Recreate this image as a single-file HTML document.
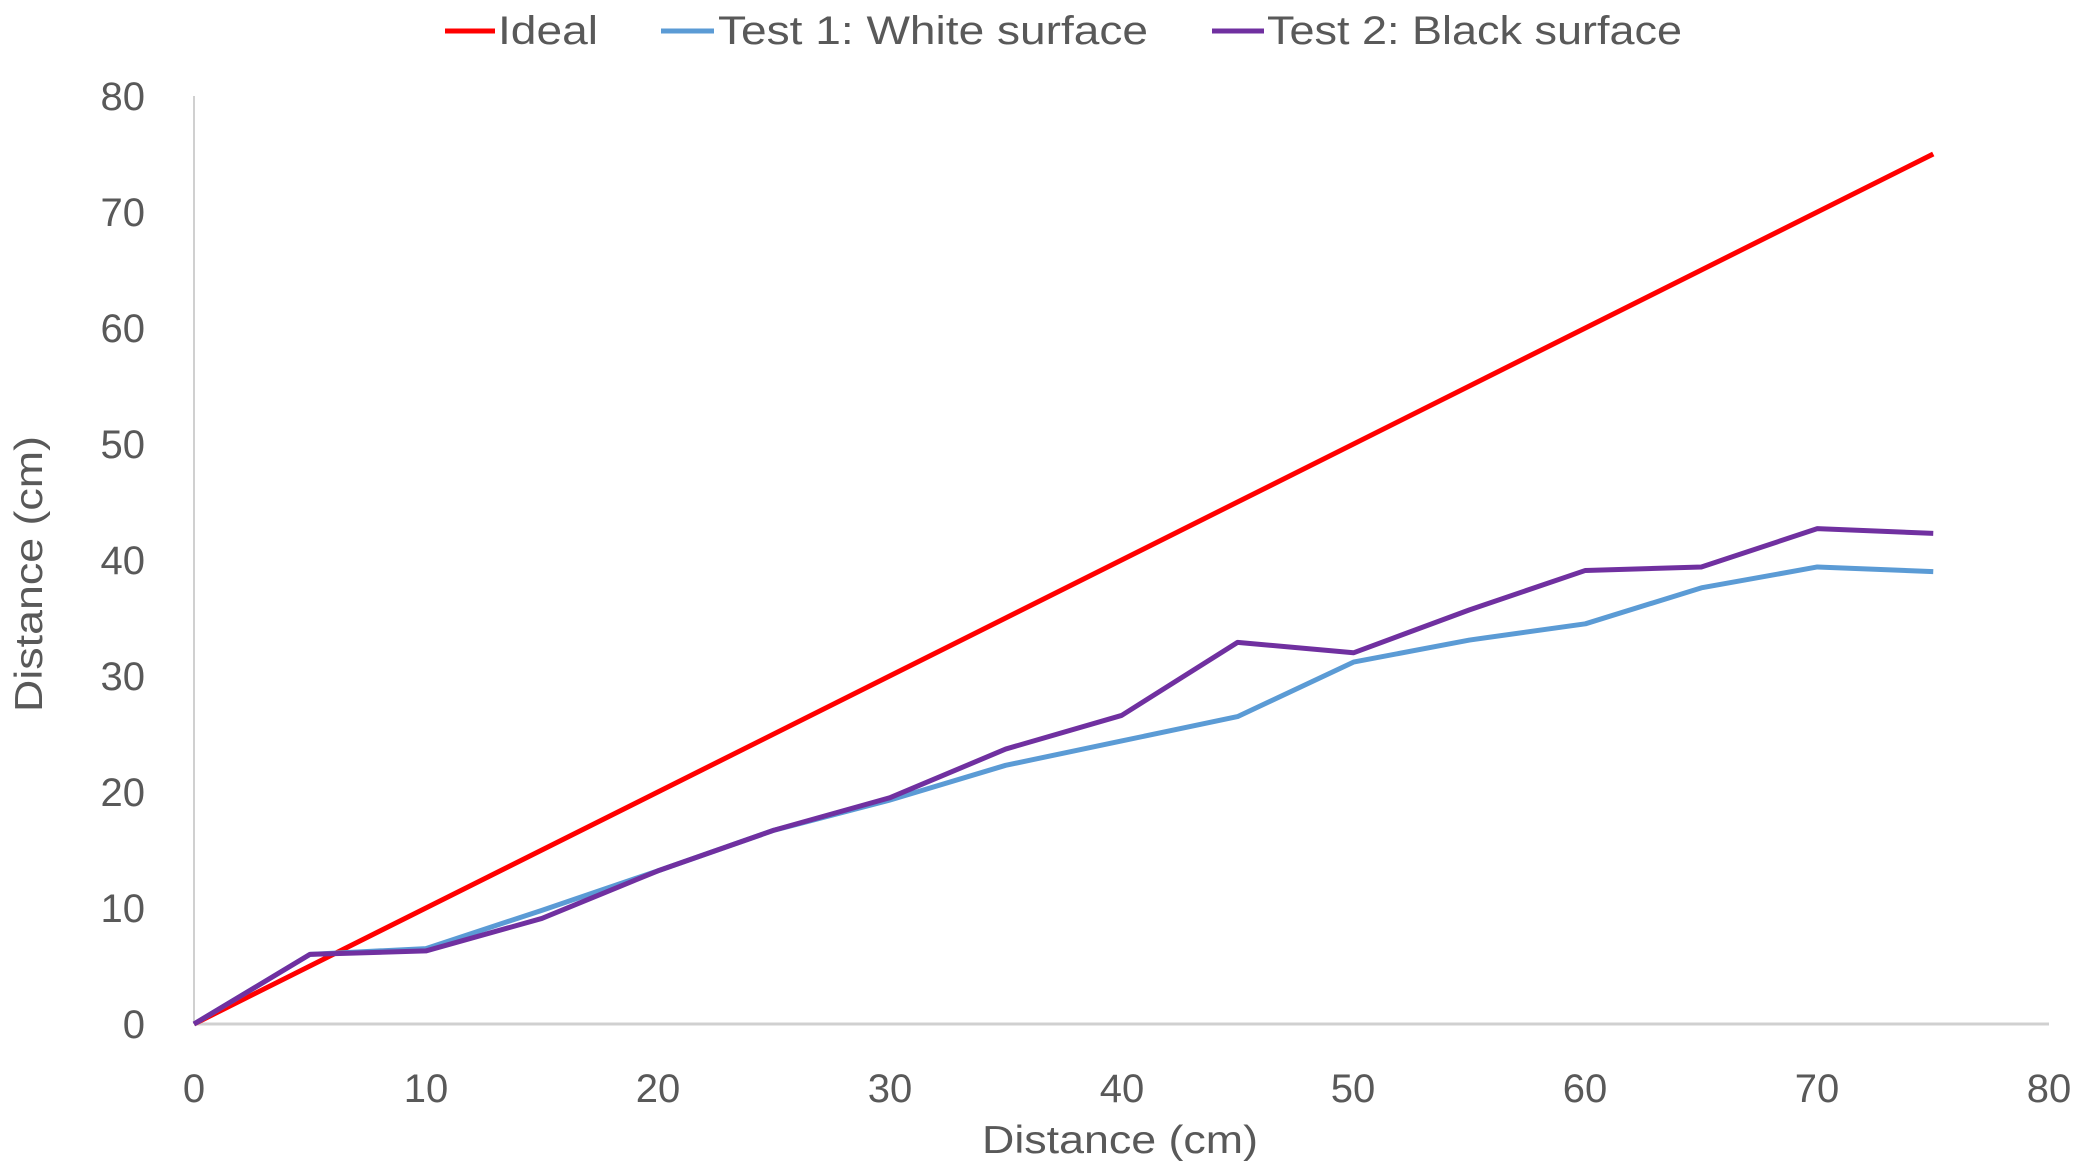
<!DOCTYPE html>
<html><head><meta charset="utf-8"><style>
html,body{margin:0;padding:0;background:#fff;}
svg{display:block;}
text{font-family:"Liberation Sans",sans-serif;fill:#595959;}
</style></head><body>
<svg width="2084" height="1175" viewBox="0 0 2084 1175">
<line x1="194" y1="96" x2="194" y2="1024" stroke="#d0d0d0" stroke-width="2"/>
<line x1="194" y1="1024" x2="2049" y2="1024" stroke="#d0d0d0" stroke-width="3"/>
<g font-size="40" text-anchor="end">
<text x="145" y="1038">0</text>
<text x="145" y="922">10</text>
<text x="145" y="806">20</text>
<text x="145" y="690">30</text>
<text x="145" y="574">40</text>
<text x="145" y="458">50</text>
<text x="145" y="342">60</text>
<text x="145" y="226">70</text>
<text x="145" y="110">80</text>
</g>
<g font-size="40" text-anchor="middle">
<text x="194" y="1102">0</text>
<text x="426" y="1102">10</text>
<text x="658" y="1102">20</text>
<text x="890" y="1102">30</text>
<text x="1122" y="1102">40</text>
<text x="1353" y="1102">50</text>
<text x="1585" y="1102">60</text>
<text x="1817" y="1102">70</text>
<text x="2049" y="1102">80</text>
</g>
<text x="1120" y="1153" font-size="39" text-anchor="middle" textLength="276" lengthAdjust="spacingAndGlyphs">Distance (cm)</text>
<text transform="translate(42,574) rotate(-90)" font-size="39" text-anchor="middle" textLength="276" lengthAdjust="spacingAndGlyphs">Distance (cm)</text>
<g transform="translate(194,1024) scale(23.19,-11.6)" fill="none" stroke-linejoin="round">
<polyline vector-effect="non-scaling-stroke" stroke="#ff0000" stroke-width="5" points="0,0 75,75"/>
<polyline vector-effect="non-scaling-stroke" stroke="#5b9bd5" stroke-width="5" points="0,0 5,6 10,6.5 15,9.8 20,13.2 25,16.7 30,19.3 35,22.3 40,24.4 45,26.5 50,31.2 55,33.1 60,34.5 65,37.6 70,39.4 75,39.0"/>
<polyline vector-effect="non-scaling-stroke" stroke="#7030a0" stroke-width="5" points="0,0 5,6 10,6.3 15,9.1 20,13.2 25,16.7 30,19.5 35,23.7 40,26.6 45,32.9 50,32.0 55,35.7 60,39.1 65,39.4 70,42.7 75,42.3"/>
</g>
<line x1="445" y1="31" x2="495" y2="31" stroke="#ff0000" stroke-width="5"/>
<text x="498" y="44" font-size="40" textLength="100" lengthAdjust="spacingAndGlyphs">Ideal</text>
<line x1="661" y1="31" x2="714" y2="31" stroke="#5b9bd5" stroke-width="5"/>
<text x="718" y="44" font-size="40" textLength="430" lengthAdjust="spacingAndGlyphs">Test 1: White surface</text>
<line x1="1212" y1="31" x2="1264" y2="31" stroke="#7030a0" stroke-width="5"/>
<text x="1267" y="44" font-size="40" textLength="415" lengthAdjust="spacingAndGlyphs">Test 2: Black surface</text>
</svg>
</body></html>
